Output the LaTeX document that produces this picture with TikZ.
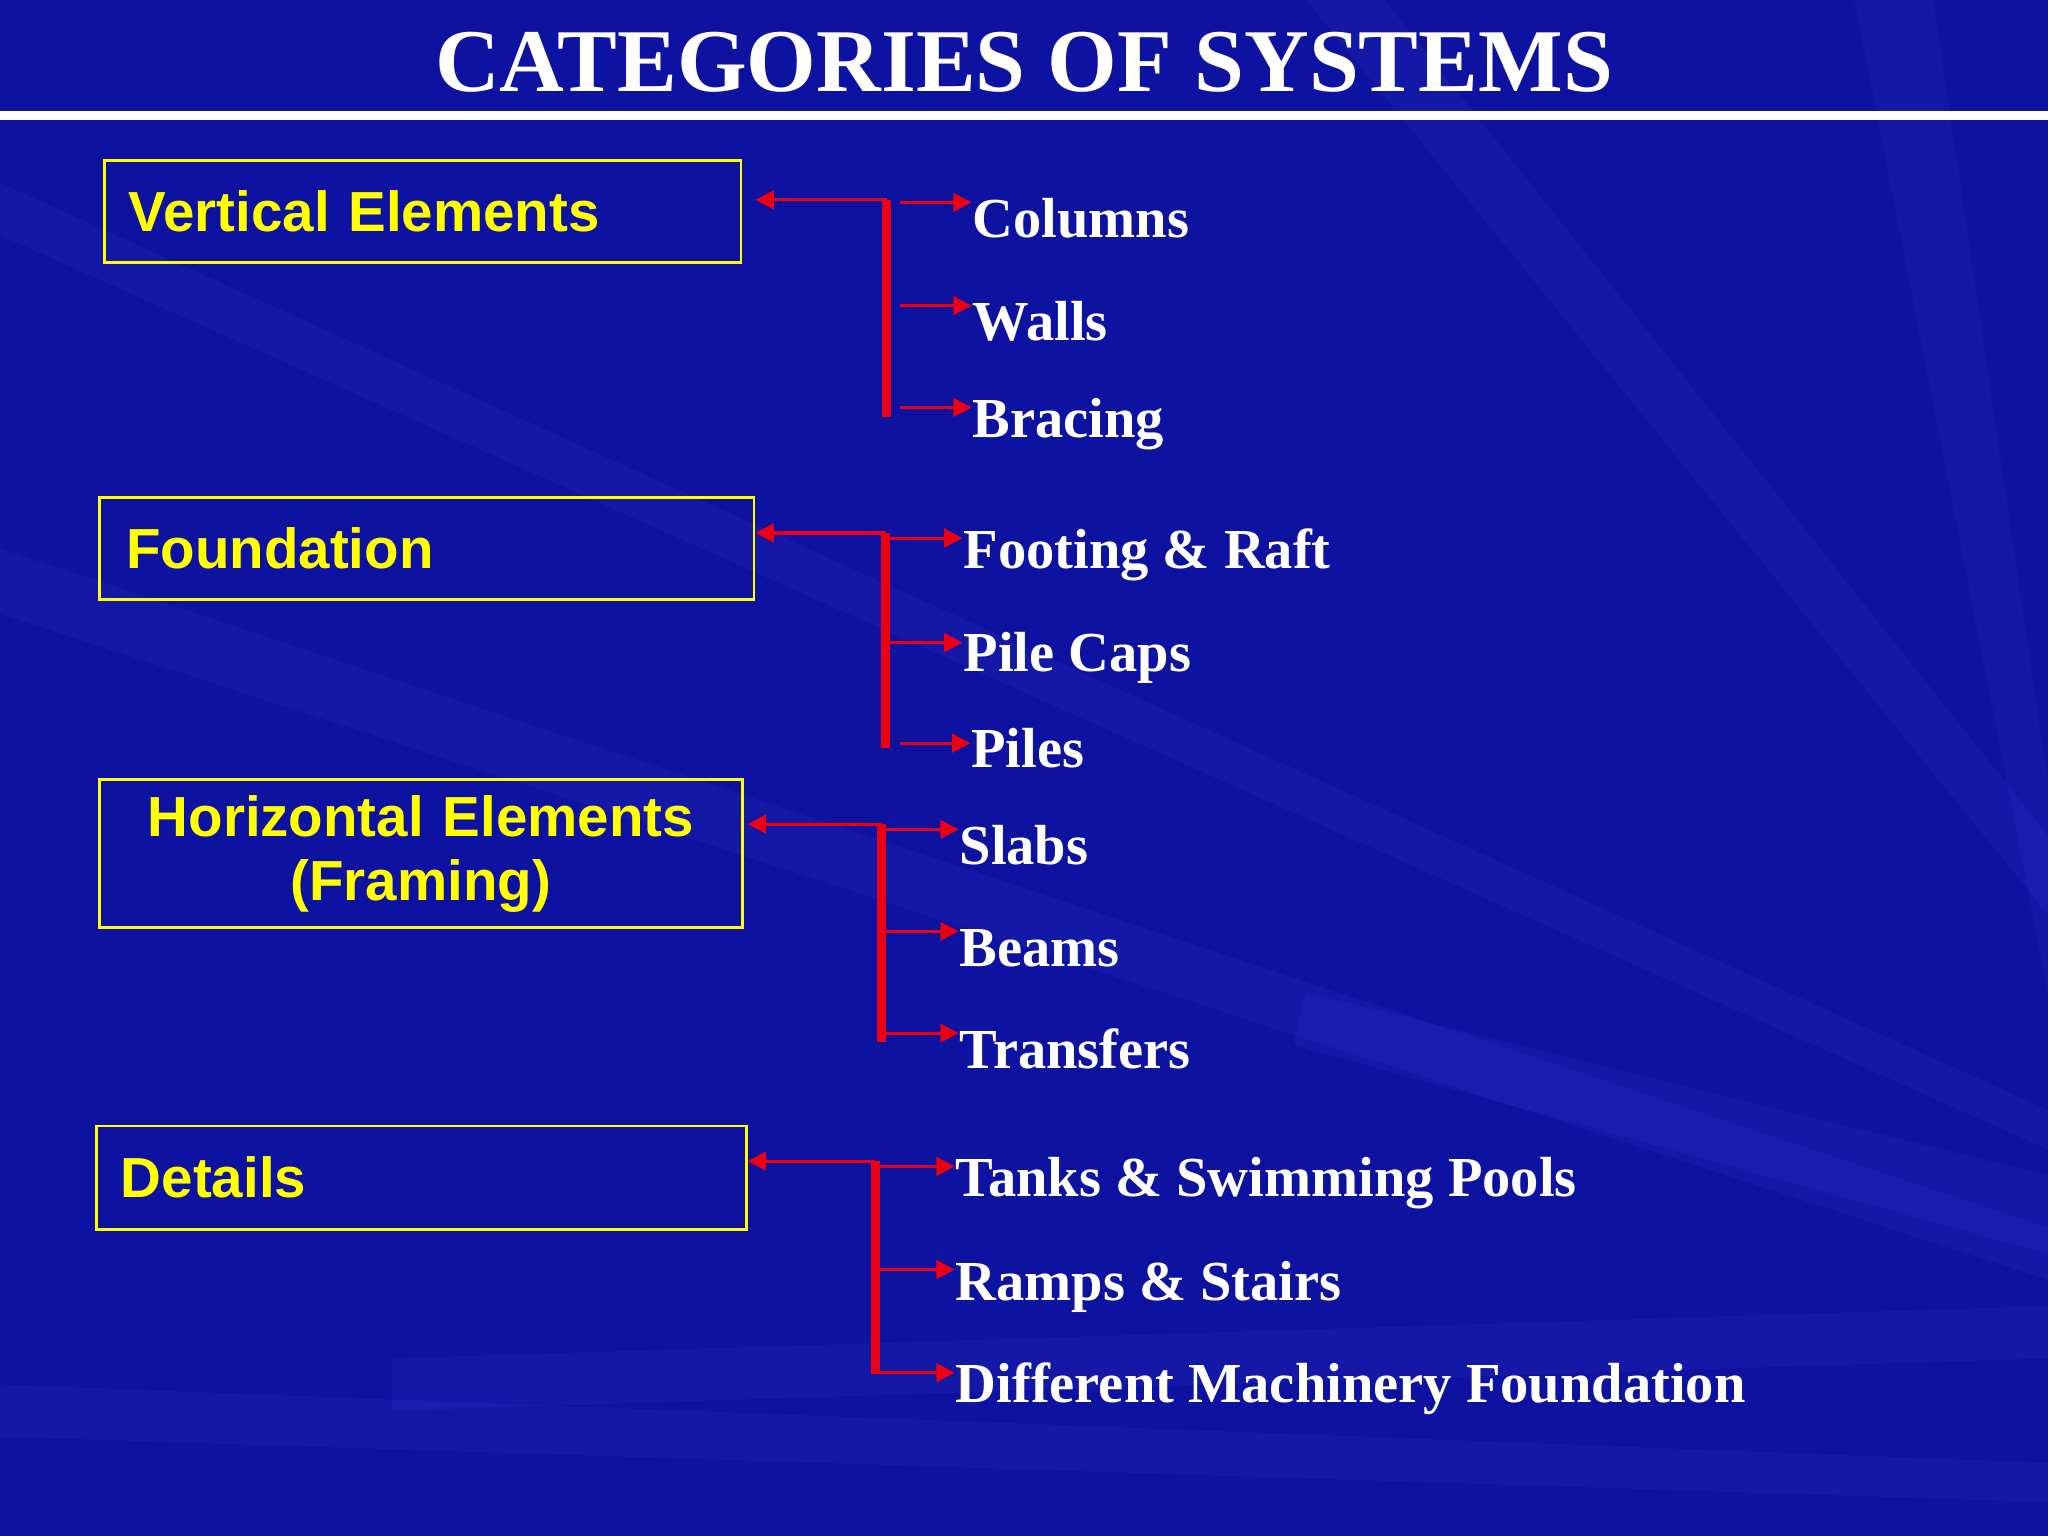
\documentclass[tikz,border=0pt]{standalone}
\usepackage{fontspec}
\setmainfont{Liberation Serif}
\newfontfamily\boxfont{Liberation Sans}
\usetikzlibrary{arrows.meta}
\definecolor{bgblue}{RGB}{14,18,160}
\definecolor{ray}{RGB}{60,70,220}
\definecolor{ylw}{RGB}{255,255,0}
\definecolor{redc}{RGB}{235,0,20}
\begin{document}
\begin{tikzpicture}[x=0.01cm,y=-0.01cm,
  box/.style={draw=ylw,line width=0.6pt,text=ylw,font=\boxfont\bfseries\fontsize{12.3}{14}\selectfont,anchor=north west,inner xsep=0.12cm},
  item/.style={text=white,font=\bfseries\fontsize{12.3}{14}\selectfont,anchor=west,inner sep=0pt},
  bar/.style={draw=redc,line width=2pt},
  arr/.style={draw=redc,line width=0.7pt,-{Triangle[length=4pt,width=4pt]}}]
\useasboundingbox (0,0) rectangle (1568,1176);
\fill[bgblue] (0,0) rectangle (1568,1176);
\begin{scope}[opacity=0.13]
\fill[ray] (1568,900) -- (1000,760) -- (990,800) -- (1568,960) -- cycle;
\fill[ray] (1568,1000) -- (300,1040) -- (300,1080) -- (1568,1040) -- cycle;
\fill[ray] (1568,940) -- (0,420) -- (0,470) -- (1568,980) -- cycle;
\fill[ray] (1568,700) -- (1000,0) -- (1060,0) -- (1568,640) -- cycle;
\fill[ray] (1568,1120) -- (0,1060) -- (0,1100) -- (1568,1150) -- cycle;
\fill[ray] (1568,760) -- (1420,0) -- (1480,0) -- (1568,600) -- cycle;
\fill[ray] (1568,850) -- (0,140) -- (0,180) -- (1568,880) -- cycle;
\end{scope}
\node[text=white,font=\bfseries\fontsize{19.5}{22}\selectfont] (title) at (784,48) {CATEGORIES OF SYSTEMS};
\fill[white] (0,85) rectangle (1568,92);
% boxes
\node[box,minimum width=4.87cm,minimum height=0.78cm,text width=4.5cm,align=left] (v) at (79,122) {Vertical Elements};
\node[box,minimum width=5.01cm,minimum height=0.78cm,text width=4.6cm,align=left] (f) at (75,380) {Foundation};
\node[box,minimum width=4.92cm,minimum height=1.11cm,text width=4.6cm,align=center] (h) at (75,596) {Horizontal Elements\\(Framing)};
\node[box,minimum width=4.97cm,minimum height=0.79cm,text width=4.6cm,align=left] (d) at (73,861) {Details};
% items
\node[item] (c1) at (744,167) {Columns};
\node[item] (c2) at (744,246) {Walls};
\node[item] (c3) at (744,325) {Bracing};
\node[item] (f1) at (737,425) {Footing \& Raft};
\node[item] (f2) at (737,504) {Pile Caps};
\node[item] (f3) at (743,573) {Piles};
\node[item] (h1) at (734,647) {Slabs};
\node[item] (h2) at (734,726) {Beams};
\node[item] (h3) at (734,803) {Transfers};
\node[item] (d1) at (731,906) {Tanks \& Swimming Pools};
\node[item] (d2) at (731,985) {Ramps \& Stairs};
\node[item] (d3) at (731,1063) {Different Machinery Foundation};
% group 1
\coordinate (vt) at (679,153); \coordinate (vb) at (679,319);
\draw[bar] (vt) -- (vb);
\draw[arr] (vt) -- ([xshift=0.1cm]vt -| v.east);
\coordinate (va1) at (689,155); \coordinate (va2) at (689,234); \coordinate (va3) at (689,312);
\draw[arr] (va1) -- (va1 -| c1.west);
\draw[arr] (va2) -- (va2 -| c2.west);
\draw[arr] (va3) -- (va3 -| c3.west);
% group 2
\coordinate (ft) at (678,408); \coordinate (fb) at (678,573);
\draw[bar] (ft) -- (fb);
\draw[arr] (ft) -- (ft -| f.east);
\coordinate (fa1) at (678,412); \coordinate (fa2) at (678,492); \coordinate (fa3) at (689,569);
\draw[arr] (fa1) -- (fa1 -| f1.west);
\draw[arr] (fa2) -- (fa2 -| f2.west);
\draw[arr] (fa3) -- (fa3 -| f3.west);
% group 3
\coordinate (ht) at (675,631); \coordinate (hb) at (675,798);
\draw[bar] (ht) -- (hb);
\draw[arr] (ht) -- ([xshift=0.03cm]ht -| h.east);
\coordinate (ha1) at (675,635); \coordinate (ha2) at (675,713); \coordinate (ha3) at (675,791);
\draw[arr] (ha1) -- (ha1 -| h1.west);
\draw[arr] (ha2) -- (ha2 -| h2.west);
\draw[arr] (ha3) -- (ha3 -| h3.west);
% group 4
\coordinate (dt) at (670,889); \coordinate (db) at (670,1052);
\draw[bar] (dt) -- (db);
\draw[arr] (dt) -- (dt -| d.east);
\coordinate (da1) at (670,893); \coordinate (da2) at (670,972); \coordinate (da3) at (670,1051);
\draw[arr] (da1) -- (da1 -| d1.west);
\draw[arr] (da2) -- (da2 -| d2.west);
\draw[arr] (da3) -- (da3 -| d3.west);
\end{tikzpicture}
\end{document}
